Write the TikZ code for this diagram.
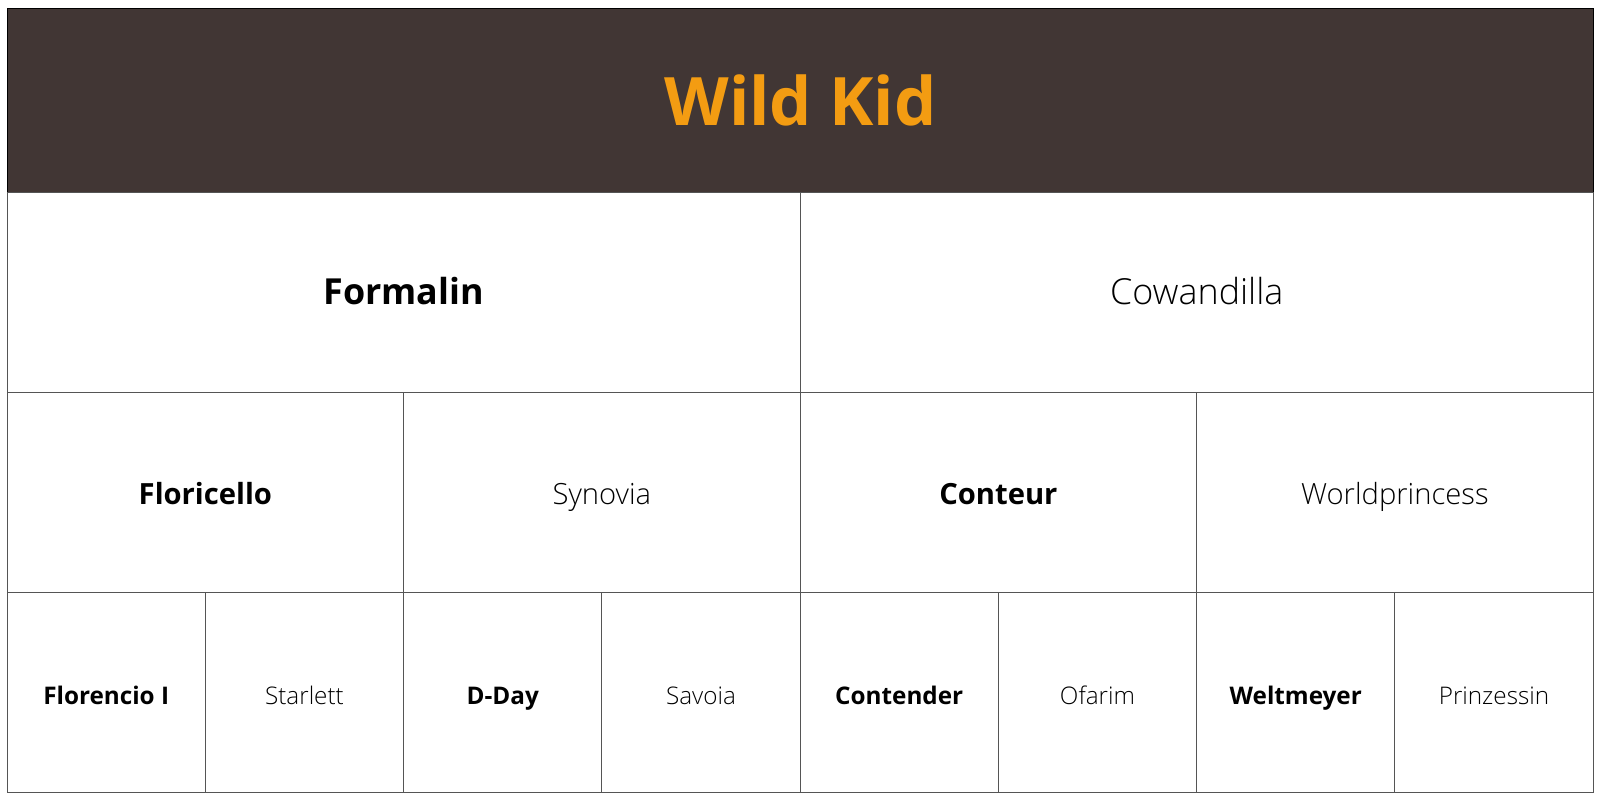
\documentclass[tikz,border=0pt]{standalone}
\usepackage{fontspec}
\setmainfont{Open Sans}[FontFace={l}{n}{Open Sans Light}]
\usepackage{tikz}
\usetikzlibrary{positioning}
\definecolor{headbrown}{RGB}{65,54,52}
\definecolor{titleorange}{RGB}{243,156,18}
\definecolor{gridgray}{RGB}{85,85,85}
\tikzset{
	cell/.style={draw=gridgray, line width=0.3pt, inner sep=0, anchor=north west, minimum height=2cm, text height=0.72em, text depth=0.02em},
}
\begin{document}
\begin{tikzpicture}[x=0.01cm, y=-0.01cm]
			\useasboundingbox (0,0) rectangle (1600,800);
			% Header:
			\node[draw=black, fill=headbrown, line width=0.3pt, inner sep=0, anchor=north west, minimum width=15.86cm, minimum height=1.84cm, text=titleorange, font=\fontsize{19}{23}\bfseries\selectfont](Title) at (6.5,8){Wild Kid};
			% Parents:
			\node[cell, minimum width=7.93cm, font=\fontsize{10.2}{13}\bfseries\selectfont](Formalin) at (6.5,192){Formalin};
			\node[cell, minimum width=7.93cm, font=\fontsize{10.2}{13}\fontseries{l}\selectfont](Cowandilla) at (799.5,192){Cowandilla};
			% Grandparents:
			\node[cell, minimum width=3.965cm, font=\fontsize{8.3}{11}\bfseries\selectfont](Floricello) at (6.5,392){Floricello};
			\node[cell, minimum width=3.965cm, font=\fontsize{8.3}{11}\fontseries{l}\selectfont](Synovia) at (403,392){Synovia};
			\node[cell, minimum width=3.965cm, font=\fontsize{8.3}{11}\bfseries\selectfont](Conteur) at (799.5,392){Conteur};
			\node[cell, minimum width=3.965cm, font=\fontsize{8.3}{11}\fontseries{l}\selectfont](Worldprincess) at (1196,392){Worldprincess};
			% Great-grandparents:
			\foreach \name/\style [count=\i from 0] in {Florencio I/\bfseries, Starlett/\fontseries{l}, D-Day/\bfseries, Savoia/\fontseries{l}, Contender/\bfseries, Ofarim/\fontseries{l}, Weltmeyer/\bfseries, Prinzessin/\fontseries{l}}
				\node[cell, minimum width=1.9825cm, font=\fontsize{6.9}{9}\style\selectfont](GG\i) at (6.5+198.25*\i,592){\name};
		\end{tikzpicture}
\end{document}
